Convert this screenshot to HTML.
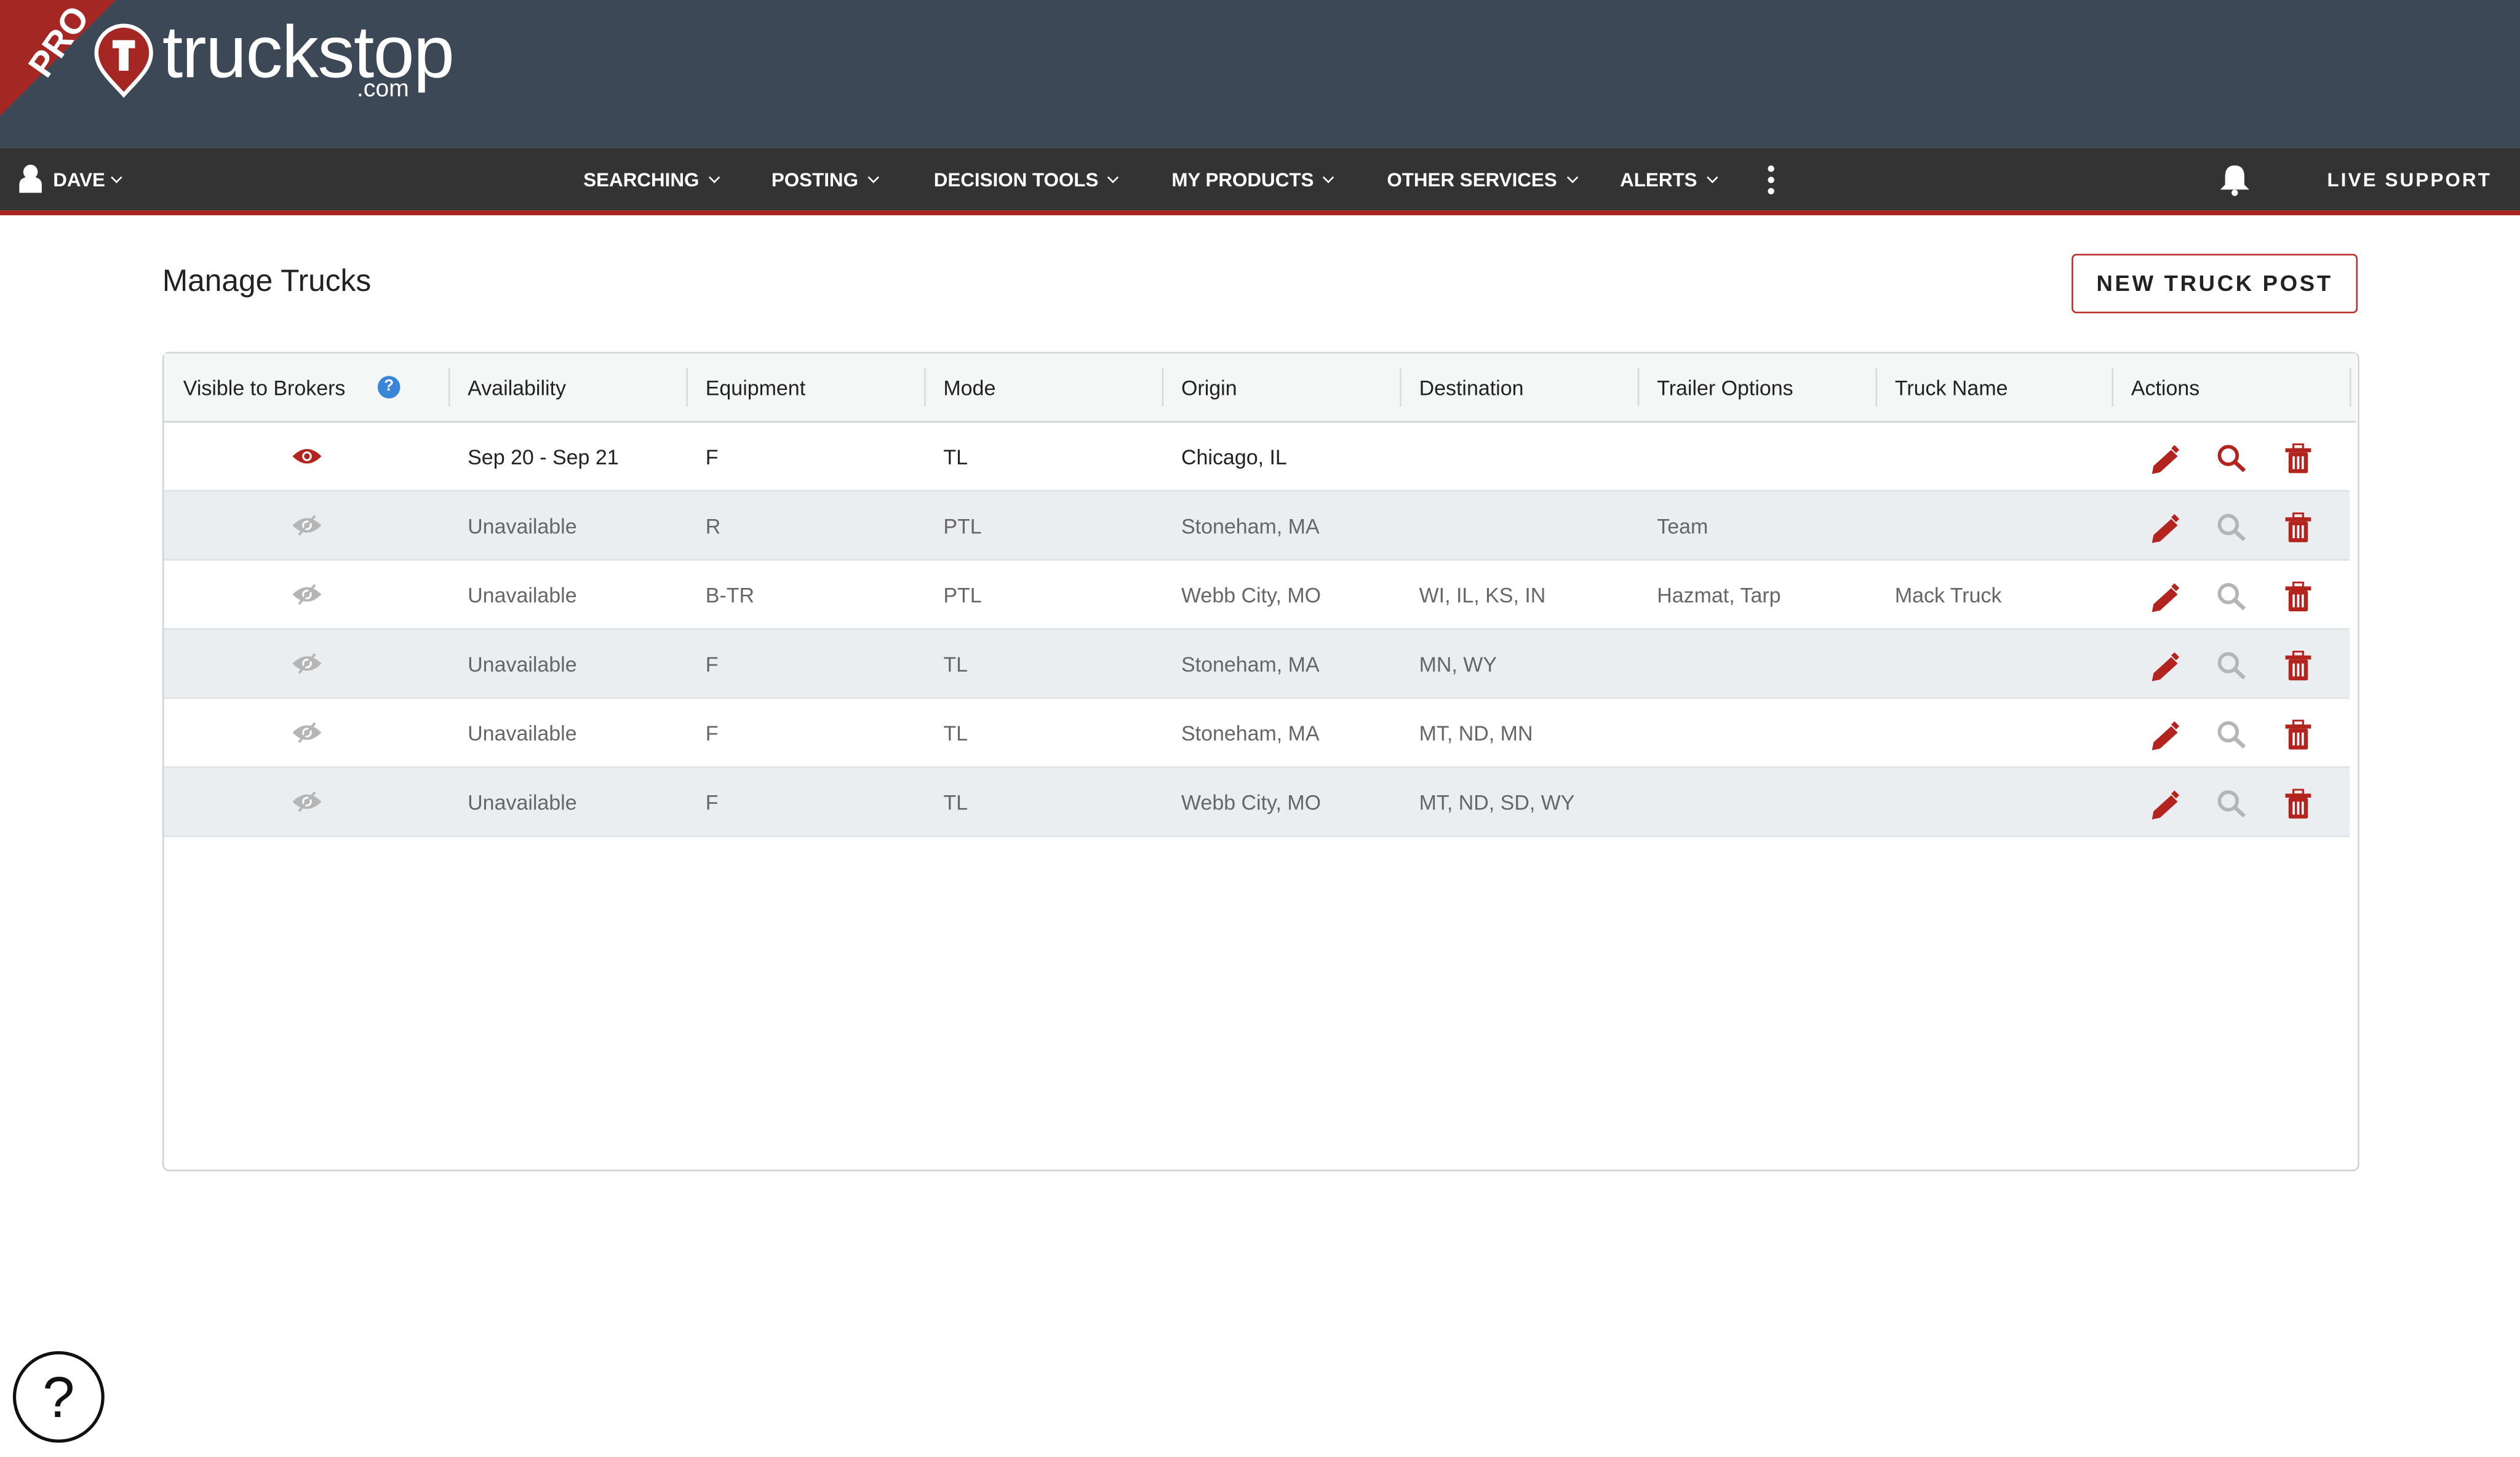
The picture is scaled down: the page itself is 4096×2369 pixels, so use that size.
<!DOCTYPE html>
<html><head><meta charset="utf-8"><style>
*{margin:0;padding:0;box-sizing:border-box}
html,body{width:4096px;height:2369px;overflow:hidden;background:#fff}
#w{position:absolute;left:0;top:0;width:1568px;height:907px;transform:scale(2.61224);transform-origin:0 0;font-family:"Liberation Sans","DejaVu Sans",sans-serif;}
.a{position:absolute}
.hdr{left:0;top:0;width:1568px;height:92px;background:#3d4856}
.nav{left:0;top:92px;width:1568px;height:39px;background:#333}
.red{left:0;top:131px;width:1568px;height:3px;background:#a82520}
.ni{top:105px;color:#fff;font-size:12px;font-weight:bold;white-space:nowrap}
.car{display:inline-block;width:5px;height:5px;border-right:1.3px solid #fff;border-bottom:1.3px solid #fff;transform:rotate(45deg);margin-left:7px;position:relative;top:-3px}
.tbl{left:101px;top:219px;width:1367px;height:510px;border:1px solid #d0d3d5;border-radius:4px}
.th{left:102px;top:220px;width:1364px;height:43px;background:#f5f6f6;border-bottom:1px solid #cfd3d5}
.hc{top:234px;font-size:13px;color:#222}
.sep{top:229px;width:1px;height:24px;background:#d8dbdd}
.row{left:102px;width:1360px;height:43px;border-bottom:1px solid #dfe2e4}
.c{font-size:13px;color:#666;white-space:nowrap}
</style></head><body><div id="w">
<div class="a hdr"></div>
<svg class="a" style="left:0;top:0" width="300" height="92">
<polygon points="0,0 72,0 0,72" fill="#a52723"/>
<text x="10" y="47" transform="rotate(-55 22 30)" fill="#fff" font-family="Liberation Sans" font-size="22" font-weight="bold">PRO</text>
<path d="M77,16 a17,17 0 0 1 17,17 c0,10 -10,18 -17,26 c-7,-8 -17,-16 -17,-26 a17,17 0 0 1 17,-17z" fill="#a52723" stroke="#fff" stroke-width="2.5"/>
<rect x="70" y="25" width="14" height="5" fill="#fff"/><rect x="74" y="30" width="6" height="14" fill="#fff"/>
<text x="101" y="48" fill="#fff" font-family="Liberation Sans" font-size="46" letter-spacing="-0.6">truckstop</text>
<text x="222" y="60" fill="#fff" font-family="Liberation Sans" font-size="15">.com</text>
</svg>
<div class="a nav"></div><div class="a red"></div>
<svg class="a" style="left:11px;top:102px" width="16" height="18"><circle cx="8" cy="5" r="4.5" fill="#fff"/><path d="M1,18 v-5 q0,-5 7,-5 q7,0 7,5 v5z" fill="#fff"/></svg>
<div class="a ni" style="left:33px">DAVE<span class="car" style="margin-left:5px"></span></div>
<div class="a ni" style="left:363px">SEARCHING<span class="car"></span></div>
<div class="a ni" style="left:480px">POSTING<span class="car"></span></div>
<div class="a ni" style="left:581px">DECISION TOOLS<span class="car"></span></div>
<div class="a ni" style="left:729px">MY PRODUCTS<span class="car"></span></div>
<div class="a ni" style="left:863px">OTHER SERVICES<span class="car"></span></div>
<div class="a ni" style="left:1008px">ALERTS<span class="car"></span></div>
<svg class="a" style="left:1098px;top:102px" width="8" height="20"><circle cx="4" cy="3" r="2" fill="#fff"/><circle cx="4" cy="10" r="2" fill="#fff"/><circle cx="4" cy="17" r="2" fill="#fff"/></svg>
<svg class="a" style="left:1381px;top:101px" width="19" height="21"><path d="M9.5,2 q6,0 6,7 v5 l3,3 h-18 l3,-3 v-5 q0,-7 6,-7z" fill="#fff"/><circle cx="9.5" cy="19" r="2" fill="#fff"/></svg>
<div class="a ni" style="left:1448px;letter-spacing:1.2px">LIVE SUPPORT</div>

<div class="a" style="left:101px;top:165px;font-size:19px;color:#222">Manage Trucks</div>
<div class="a" style="left:1289px;top:158px;width:178px;height:37px;border:1px solid #b8302b;border-radius:3px;text-align:center;line-height:35px;font-size:14px;font-weight:bold;letter-spacing:1.4px;color:#222">NEW TRUCK POST</div>

<div class="a tbl"></div>
<div class="a th"></div>
<div class="a hc" style="left:114px">Visible to Brokers</div>
<div class="a" style="left:235px;top:234px;width:14px;height:14px;border-radius:50%;background:#3a86d6;color:#fff;font-size:10px;font-weight:bold;text-align:center;line-height:14px">?</div>
<div class="a hc" style="left:291px">Availability</div>
<div class="a hc" style="left:439px">Equipment</div>
<div class="a hc" style="left:587px">Mode</div>
<div class="a hc" style="left:735px">Origin</div>
<div class="a hc" style="left:883px">Destination</div>
<div class="a hc" style="left:1031px">Trailer Options</div>
<div class="a hc" style="left:1179px">Truck Name</div>
<div class="a hc" style="left:1326px">Actions</div>
<div class="a sep" style="left:279px"></div><div class="a sep" style="left:427px"></div><div class="a sep" style="left:575px"></div><div class="a sep" style="left:723px"></div><div class="a sep" style="left:871px"></div><div class="a sep" style="left:1019px"></div><div class="a sep" style="left:1167px"></div><div class="a sep" style="left:1314px"></div><div class="a sep" style="left:1462px"></div>

<div id="rows"></div>
<script>
var d=[["Sep 20 - Sep 21","F","TL","Chicago, IL","","",""],
["Unavailable","R","PTL","Stoneham, MA","","Team",""],
["Unavailable","B-TR","PTL","Webb City, MO","WI, IL, KS, IN","Hazmat, Tarp","Mack Truck"],
["Unavailable","F","TL","Stoneham, MA","MN, WY","",""],
["Unavailable","F","TL","Stoneham, MA","MT, ND, MN","",""],
["Unavailable","F","TL","Webb City, MO","MT, ND, SD, WY","",""]];
var xs=[291,439,587,735,883,1031,1179],h="";
d.forEach(function(r,i){var y=263+i*43;var bg=i%2?"#ebeef0":"#fff";var col=i?"#666":"#222";
h+='<div class="a row" style="top:'+y+'px;background:'+bg+'"></div>';
r.forEach(function(t,j){h+='<div class="a c" style="left:'+xs[j]+'px;top:'+(y+14)+'px;color:'+col+'">'+t+'</div>';});
var ec=i?"#b5b5b5":"#b3241f";
h+='<svg class="a" style="left:181px;top:'+(y+14)+'px" width="20" height="14"><path d="M1,7 q9,-9 18,0 q-9,9 -18,0z" fill="'+ec+'"/><circle cx="10" cy="7" r="3" fill="#fff"/><circle cx="10" cy="7" r="1.8" fill="'+ec+'"/>'+(i?'<line x1="5" y1="13" x2="15" y2="1" stroke="#b5b5b5" stroke-width="1.5"/>':'')+'</svg>';
h+='<svg class="a" style="left:1337px;top:'+(y+13)+'px" width="20" height="20"><path d="M2,19 l1,-5 l11,-10 l4,4 l-11,10z" fill="#b3241f"/><path d="M14,3 l2,-2 l3,3 l-2,2z" fill="#b3241f"/></svg>';
var sc=i?"#b5b5b5":"#b3241f";
h+='<svg class="a" style="left:1379px;top:'+(y+13)+'px" width="20" height="20"><circle cx="7.5" cy="7.5" r="5.5" fill="none" stroke="'+sc+'" stroke-width="2.2"/><line x1="11.5" y1="11.5" x2="17.5" y2="17" stroke="'+sc+'" stroke-width="2.5"/></svg>';
h+='<svg class="a" style="left:1421px;top:'+(y+13)+'px" width="18" height="20"><rect x="1" y="3" width="16" height="2.5" fill="#b3241f"/><rect x="6" y="0.5" width="6" height="3" fill="none" stroke="#b3241f" stroke-width="1.2"/><rect x="3" y="5.5" width="12" height="13" rx="1" fill="#b3241f"/><rect x="5.5" y="8" width="1.4" height="8" fill="#fff"/><rect x="8.3" y="8" width="1.4" height="8" fill="#fff"/><rect x="11.1" y="8" width="1.4" height="8" fill="#fff"/></svg>';
});
document.getElementById('rows').innerHTML=h;
</script>
<div class="a" style="left:8px;top:841px;width:57px;height:57px;border:2px solid #111;border-radius:50%;background:#fff;text-align:center;line-height:53px;font-size:36px;color:#111">?</div>
</div></body></html>
